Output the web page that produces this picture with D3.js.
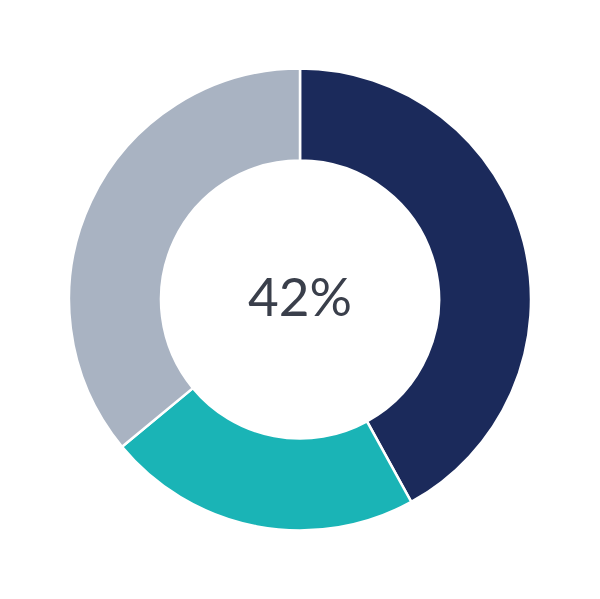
<!DOCTYPE html>
<html>
<head>
<meta charset="utf-8">
<script src="https://cdn.jsdelivr.net/npm/d3@7"></script>
<style>
  html, body { margin: 0; padding: 0; background: #fff; }
</style>
</head>
<body>
<svg id="chart" width="600" height="599"></svg>
<script>
const categories = ['A', 'B', 'C'];
const values = [42, 22, 36];
const colors = ['#1b2a5b', '#1ab4b6', '#a9b3c2'];
const centerLabel = '42%';

const svg = d3.select('#chart');
const cx = 300, cy = 299.5;
const outerR = 231, innerR = 139;

const pie = d3.pie().sort(null).value(d => d.value);
const arc = d3.arc().innerRadius(innerR).outerRadius(outerR);

const data = categories.map((c, i) => ({ cat: c, value: values[i] }));

const g = svg.append('g').attr('transform', `translate(${cx}, ${cy})`);

g.selectAll('path')
  .data(pie(data))
  .join('path')
  .attr('d', arc)
  .attr('fill', (d, i) => colors[i])
  .attr('stroke', '#fff')
  .attr('stroke-width', 2.5);

g.append('text')
  .attr('text-anchor', 'middle')
  .attr('dy', '0.31em')
  .attr('font-family', 'Lato, sans-serif')
  .attr('font-size', 53)
  .attr('fill', '#3a3f4b')
  .text(centerLabel);
</script>
</body>
</html>
